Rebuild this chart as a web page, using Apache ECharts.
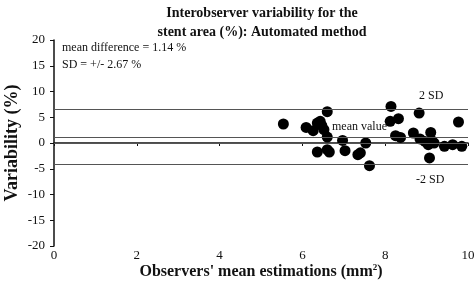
<!DOCTYPE html>
<html>
<head>
	<meta charset="utf-8">
	<title>Interobserver variability</title>
	<script src="https://cdn.jsdelivr.net/npm/echarts@6.0.0/dist/echarts.min.js"></script>
	<style>
		body { margin: 0; background: #fff; }
	</style>
</head>
<body>
	<div id="chart" style="width: 474px; height: 289px;"></div>
	<script>
		// observers' mean estimation (mm2) and variability (%)
		var meanEst = [5.54, 6.09, 6.26, 6.36, 6.43, 6.47, 6.52, 6.6, 6.6, 6.36, 6.6, 6.65, 6.97, 7.03, 7.34, 7.4,
			7.53, 7.62, 8.14, 8.12, 8.32, 8.25, 8.37, 8.82, 8.68, 8.84, 9.1, 8.96, 9.12, 9.04, 9.18, 9.07,
			9.43, 9.63, 9.85, 9.77];
		var variability = [3.69, 3.03, 2.39, 3.88, 4.2, 3.36, 2.58, 6.08, 1.16, -1.75, -1.3, -1.75, 0.5, -1.5, -2.27, -1.9,
			0, -4.4, 7.1, 4.2, 4.72, 1.42, 1.09, 5.82, 1.94, 0.78, 2.06, 0.31, 0.5, -0.33, 0, -2.9,
			-0.65, -0.33, -0.65, 4.08];
		var refLines = [6.48, 1.14, 0, -4.2];
		var xTicks = [0, 2, 4, 6, 8, 10];
		var yTicks = [-20, -15, -10, -5, 0, 5, 10, 15, 20];

		var serif = 'Liberation Serif';
		var points = meanEst.map(function (x, i) { return [x, variability[i]]; });

		var chart = echarts.init(document.getElementById('chart'));
		chart.setOption({
			animation: false,
			textStyle: { fontFamily: serif },
			title: {
				text: 'Interobserver variability for the\nstent area (%): Automated method',
				left: 257,
				textAlign: 'center',
				top: -1,
				textStyle: { fontFamily: serif, fontWeight: 'bold', fontSize: 14, lineHeight: 19, color: '#111' }
			},
			grid: { left: 54, right: 6, top: 40, bottom: 43, containLabel: false, outerBoundsMode: 'none' },
			xAxis: {
				type: 'value',
				min: xTicks[0],
				max: xTicks[xTicks.length - 1],
				interval: 2,
				splitLine: { show: false },
				axisLine: { lineStyle: { color: '#111', width: 1.5 } },
				axisTick: { length: 3, lineStyle: { color: '#111' } },
				axisLabel: { color: '#111', fontSize: 13, fontFamily: serif, margin: 3 },
				name: "{b|Observers' mean estimations (mm}{s|2}{b|)}",
				nameLocation: 'middle',
				nameMoveOverlap: false,
				nameGap: 17,
				nameTextStyle: {
					rich: {
						b: { fontFamily: serif, fontWeight: 'bold', fontSize: 16, color: '#111' },
						s: { fontFamily: serif, fontWeight: 'bold', fontSize: 9, color: '#111', verticalAlign: 'top', padding: [0, 0, 8, 0] }
					}
				}
			},
			yAxis: {
				type: 'value',
				min: yTicks[0],
				max: yTicks[yTicks.length - 1],
				interval: 5,
				splitLine: { show: false },
				axisLine: { show: true, lineStyle: { color: '#111', width: 1.5 } },
				axisTick: { show: true, length: 4, lineStyle: { color: '#111' } },
				axisLabel: { color: '#111', fontSize: 13, fontFamily: serif, margin: 9 },
				name: 'Variability (%)',
				nameLocation: 'middle',
				nameMoveOverlap: false,
				nameGap: 33,
				nameTextStyle: { fontFamily: serif, fontWeight: 'bold', fontSize: 18, color: '#111' }
			},
			series: [{
				type: 'scatter',
				data: points,
				symbolSize: 11,
				itemStyle: { color: '#000', opacity: 1 },
				markLine: {
					silent: true,
					symbol: 'none',
					label: { show: false },
					lineStyle: { color: '#555', width: 1, type: 'solid' },
					data: refLines.map(function (v) { return { yAxis: v }; })
				}
			}],
			graphic: [
				{ type: 'text', left: 62, top: 42, style: { text: 'mean difference = 1.14 %', font: '12px "Liberation Serif"', fill: '#111' } },
				{ type: 'text', left: 62, top: 59, style: { text: 'SD = +/- 2.67 %', font: '12px "Liberation Serif"', fill: '#111' } },
				{ type: 'text', left: 419, top: 90, style: { text: '2 SD', font: '12px "Liberation Serif"', fill: '#111' } },
				{ type: 'text', left: 416, top: 174, style: { text: '-2 SD', font: '12px "Liberation Serif"', fill: '#111' } },
				{ type: 'text', left: 332, top: 121, style: { text: 'mean value', font: '12px "Liberation Serif"', fill: '#111' } }
			]
		});
	</script>
</body>
</html>
